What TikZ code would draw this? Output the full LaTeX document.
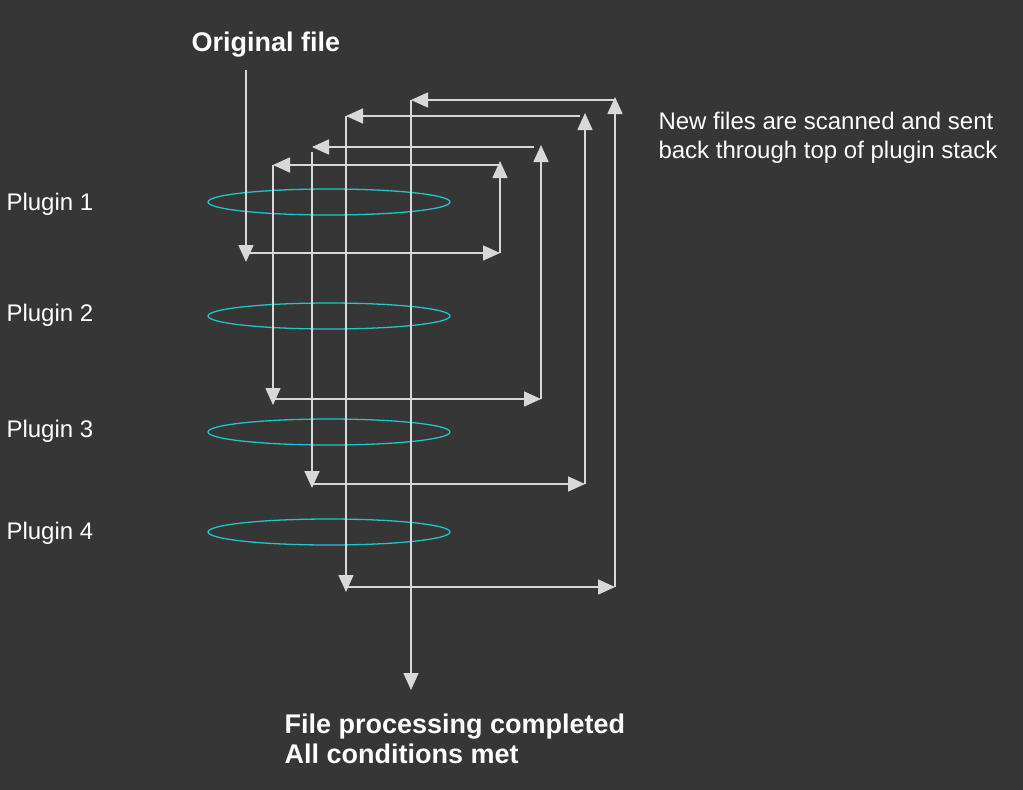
\documentclass[tikz,border=0pt]{standalone}
\usepackage{fontspec}
\setmainfont{Liberation Sans}
\usetikzlibrary{arrows.meta,shapes.geometric}
\definecolor{bg}{HTML}{363636}
\definecolor{ln}{HTML}{D8D8D8}
\definecolor{cy}{HTML}{22C4CC}
\begin{document}
\begin{tikzpicture}[x=1pt,y=-1pt,
  flow/.style={draw=ln,line width=1.6pt,-{Triangle[length=17pt,width=15pt]}},
  plug/.style={draw=cy,line width=1.3pt,ellipse,minimum width=242pt,minimum height=26pt,inner sep=0pt},
  lab/.style={text=white,font=\fontsize{24}{29}\selectfont,anchor=west},
  ttl/.style={text=white,font=\bfseries\fontsize{27}{30}\selectfont,anchor=west,align=left}]
\fill[bg] (0,0) rectangle (1023,790);
\node[ttl] (orig) at (188,45) {Original file};
\node[ttl] (done) at (281,739) {File processing completed\\All conditions met};
\node[lab,align=left] (note) at (655,138) {New files are scanned and sent\\back through top of plugin stack};
\foreach \i/\y in {1/204,2/315,3/431,4/533}{
  \node[lab] (l\i) at (3,\y) {Plugin \i};
}
\foreach \i/\y in {1/202,2/316,3/432,4/532}{
  \node[plug] (p\i) at (329,\y) {};
}
\coordinate (a0) at (246,70);
\coordinate (a1) at (246,262);
\coordinate (a1h) at (246,253);
\coordinate (a2) at (500,253);
\coordinate (a3) at (500,161);
\coordinate (a3h) at (500,165);
\coordinate (a4) at (273,165);
\coordinate (a5) at (273,405);
\coordinate (a5h) at (273,399);
\coordinate (a6) at (541,399);
\coordinate (a7) at (541,145);
\coordinate (a7h) at (534,147);
\coordinate (a8) at (312,147);
\coordinate (a8t) at (312,152);
\coordinate (a9) at (312,488);
\coordinate (a9h) at (312,484);
\coordinate (a10) at (585,484);
\coordinate (a11) at (585,113);
\coordinate (a11h) at (580,116);
\coordinate (a12) at (346,116);
\coordinate (a13) at (346,592);
\coordinate (a13h) at (346,587);
\coordinate (a14) at (615,587);
\coordinate (a15) at (615,97);
\coordinate (a15h) at (615,100);
\coordinate (a16) at (411,100);
\coordinate (a17) at (411,690);
\draw[flow] (a0) -- (a1);
\draw[flow] (a1h) -- (a2);
\draw[flow] (a2) -- (a3);
\draw[flow] (a3h) -- (a4);
\draw[flow] (a4) -- (a5);
\draw[flow] (a5h) -- (a6);
\draw[flow] (a6) -- (a7);
\draw[flow] (a7h) -- (a8);
\draw[flow] (a8t) -- (a9);
\draw[flow] (a9h) -- (a10);
\draw[flow] (a10) -- (a11);
\draw[flow] (a11h) -- (a12);
\draw[flow] (a12) -- (a13);
\draw[flow] (a13h) -- (a14);
\draw[flow] (a14) -- (a15);
\draw[flow] (a15h) -- (a16);
\draw[flow] (a16) -- (a17);
\end{tikzpicture}
\end{document}
